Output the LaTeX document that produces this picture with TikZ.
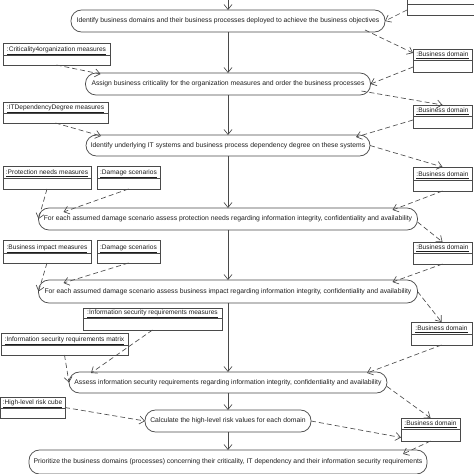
\documentclass[tikz,border=0pt]{standalone}
\usepackage{fontspec}
\setmainfont{Liberation Sans}
\usetikzlibrary{arrows.meta,calc}
\definecolor{ln}{HTML}{4A4A4A}
\definecolor{tx}{HTML}{1E1E1E}
\tikzset{
  act/.style={draw=ln, line width=0.75pt, rounded corners=10.5pt, inner sep=0pt, outer sep=0pt,
    font=\fontsize{6.8}{8}\selectfont, text=tx},
  obj/.style={draw=ln, line width=0.75pt, inner sep=0pt, outer sep=0pt},
  objtitle/.style={inner sep=0pt, font=\fontsize{6.6}{8}\selectfont, text=tx},
  flow/.style={draw=ln, line width=0.65pt, -{Straight Barb[length=5pt,width=8pt]}},
  dep/.style={draw=ln, line width=0.65pt, dash pattern=on 5pt off 3pt, -{Straight Barb[length=5pt,width=8pt]}},
}
% name, x1, y1, x2, y2, separator y, title
\newcommand\mkobj[7]{%
  \node[obj, minimum width={(#4-#2)*1pt}, minimum height={(#5-#3)*1pt}] (#1) at ({(#2+#4)/2},{(#3+#5)/2}) {};
  \node[objtitle, anchor=base] (#1t) at ({(#2+#4)/2},{#6-3.2}) {\underline{#7}};
  \draw[obj] (#1.west |- 0,#6) -- (#1.east |- 0,#6);
}
% name, width, y1, y2, text
\newcommand\mkact[5]{%
  \node[act, minimum width={#2*1pt}, minimum height={(#4-#3)*1pt}] (#1) at (228,{(#3+#4)/2}) {#5};
}
\begin{document}
\begin{tikzpicture}[x=1pt,y=-1pt]
\useasboundingbox (0,0) rectangle (474,474);

% activities
\mkact{a1}{314}{10}{32}{Identify business domains and their business processes deployed to achieve the business objectives}
\mkact{a2}{285}{73}{95}{Assign business criticality for the organization measures and order the business processes}
\mkact{a3}{284}{135}{156}{Identify underlying IT systems and business process dependency degree on these systems}
\mkact{a4}{379}{208}{230}{For each assumed damage scenario assess protection needs regarding information integrity, confidentiality and availability}
\mkact{a5}{379}{280}{303}{For each assumed damage scenario assess business impact regarding information integrity, confidentiality and availability}
\mkact{a6}{318}{372}{393}{Assess information security requirements regarding information integrity, confidentiality and availability}
\mkact{a7}{166}{410}{432}{Calculate the high-level risk values for each domain}
\mkact{a8}{398}{450}{474}{Prioritize the business domains (processes) concerning their criticality, IT dependency and their information security requirements}

% object boxes
\mkobj{tb}{407}{-8}{478}{15}{4}{}
\mkobj{crit}{3}{43}{110}{65}{55}{:Criticality4organization measures}
\mkobj{bd1}{413}{49}{472}{72}{60}{:Business domain}
\mkobj{itd}{3}{102}{108}{123}{113}{:ITDependencyDegree measures}
\mkobj{bd2}{413}{105}{472}{128}{116}{:Business domain}
\mkobj{prot}{3}{166}{91}{189}{178}{:Protection needs measures}
\mkobj{dam1}{97}{166}{160}{189}{178}{:Damage scenarios}
\mkobj{bd3}{413}{167}{472}{191}{180}{:Business domain}
\mkobj{bi}{3}{240}{91}{263}{253}{:Business impact measures}
\mkobj{dam2}{97}{240}{160}{263}{253}{:Damage scenarios}
\mkobj{bd4}{413}{242}{472}{264}{253}{:Business domain}
\mkobj{isrm}{83}{308}{222}{330}{318}{:Information security requirements measures}
\mkobj{bd5}{411}{322}{472}{345}{334}{:Business domain}
\mkobj{isrx}{1}{333}{128}{355}{345}{:Information security requirements matrix}
\mkobj{hlrc}{0}{397}{65}{418}{408}{:High-level risk cube}
\mkobj{bd6}{401}{418}{460}{441}{429}{:Business domain}

% control flow
\coordinate (start) at (228,-2);
\coordinate (end) at (228,482);
\draw[flow] (start) -- (a1.north);
\draw[flow] (a1.south) -- (a2.north);
\draw[flow] (a2.south) -- (a3.north);
\draw[flow] (a3.south) -- (a4.north);
\draw[flow] (a4.south) -- (a5.north);
\draw[flow] (a5.south) -- (a6.north);
\draw[flow] (a6.south) -- (a7.north);
\draw[flow] (a7.south) -- (a8.north);
\draw[ln, line width=0.65pt] (a8.south) -- (end);

% object flows
\draw[dep] ([yshift=5pt]tb.south west) -- (a1.east);
\draw[dep] ([xshift=-20pt,yshift=2pt]a1.south east) -- ([yshift=-4pt]bd1.north west);
\draw[dep] (crit.south) -- ([xshift=15pt,yshift=-1pt]a2.north west);
\draw[dep] ([yshift=5pt]bd1.south west) -- (a2.east);
\draw[dep] ([xshift=-9pt,yshift=4pt]a2.south east) -- (bd2.north);
\draw[dep] (itd.south) -- ([xshift=15pt,yshift=-1pt]a3.north west);
\draw[dep] ([yshift=8pt]bd2.south west) -- ([xshift=-14pt,yshift=-2pt]a3.north east);
\draw[dep] (a3.east) -- (bd3.north);
\draw[dep] (prot.south) -- (a4.west);
\draw[dep] (dam1.south) -- ([xshift=25pt,yshift=-4pt]a4.north west);
\draw[dep] (bd3.south) -- ([xshift=-25pt,yshift=-2pt]a4.north east);
\draw[dep] ([yshift=-3pt]a4.east) -- (bd4.north);
\draw[dep] (bi.south) -- (a5.west);
\draw[dep] (dam2.south) -- ([xshift=25pt,yshift=-3pt]a5.north west);
\draw[dep] (bd4.south) -- ([xshift=-25pt,yshift=-2pt]a5.north east);
\draw[dep] (a5.east) -- (bd5.north);
\draw[dep] (isrm.south) -- ([xshift=22pt,yshift=-1pt]a6.north west);
\draw[dep] (isrx.south) -- (a6.west);
\draw[dep] (bd5.south) -- ([xshift=-20pt,yshift=-1pt]a6.north east);
\draw[dep] ([yshift=-4pt]a6.east) -- (bd6.north);
\draw[dep] (hlrc.east) -- (a7.west);
\draw[dep] (a7.east) -- ([yshift=-8pt]bd6.west);
\draw[dep] (bd6.south) -- ([xshift=-24pt,yshift=-4pt]a8.north east);
\end{tikzpicture}
\end{document}
